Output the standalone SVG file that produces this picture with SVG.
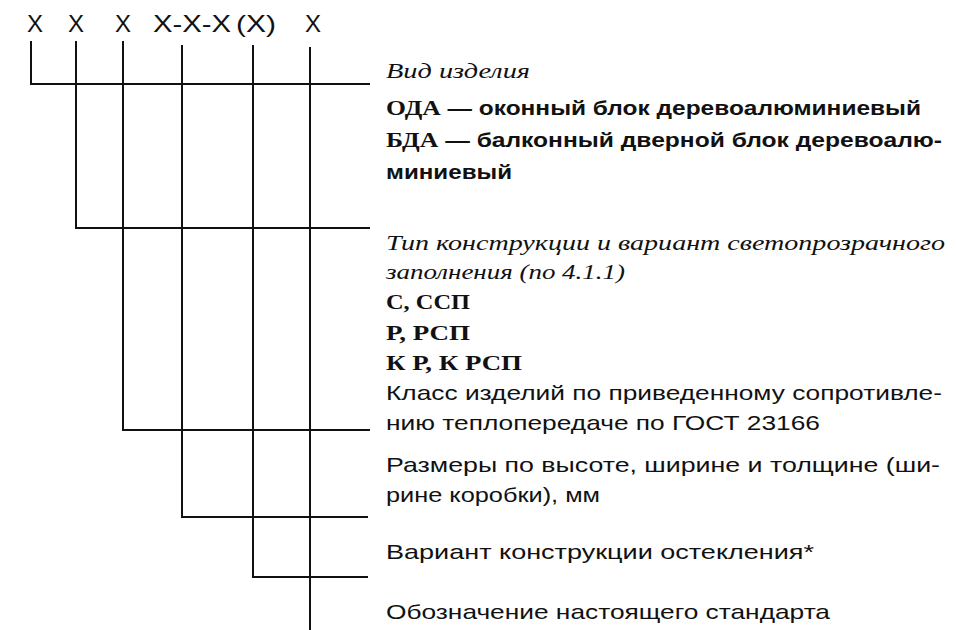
<svg xmlns="http://www.w3.org/2000/svg" width="956" height="630" viewBox="0 0 956 630">
<style>
.bg{fill:#ffffff}
.hx{font-family:"Liberation Sans",Arial,sans-serif;font-size:24px;fill:#111}
.it{font-family:"Liberation Serif","Times New Roman",serif;font-style:italic;font-size:21px;fill:#111}
.bd{font-family:"Liberation Sans",Arial,sans-serif;font-weight:bold;font-size:21px;fill:#111}
.bs{font-family:"Liberation Serif","Times New Roman",serif;font-weight:bold;font-size:22px;fill:#111}
.rg{font-family:"Liberation Sans",Arial,sans-serif;font-size:21px;fill:#111}
.ln{fill:none;stroke:#111;stroke-width:2}
</style>
<rect class="bg" x="0" y="0" width="956" height="630"/>
<g id="header">
<text class="hx" x="35" y="32" text-anchor="middle">Х</text>
<text class="hx" x="76" y="32" text-anchor="middle">Х</text>
<text class="hx" x="123" y="32" text-anchor="middle">Х</text>
<text class="hx" x="153" y="32" textLength="78" lengthAdjust="spacingAndGlyphs">Х-Х-Х</text>
<text class="hx" x="236" y="32" textLength="40" lengthAdjust="spacingAndGlyphs">(Х)</text>
<text class="hx" x="313" y="32" text-anchor="middle">Х</text>
</g>
<g id="connectors">
<path class="ln" d="M31,41 V84 H370"/>
<path class="ln" d="M76,41 V228 H370"/>
<path class="ln" d="M123,41 V430 H370"/>
<path class="ln" d="M182,45 V517 H368"/>
<path class="ln" d="M253,45 V577 H368"/>
<path class="ln" d="M310,47 V630"/>
</g>
<g id="node-vid">
<text class="it" x="386" y="78" textLength="144" lengthAdjust="spacingAndGlyphs">Вид изделия</text>
<text class="bd" x="386" y="115" textLength="535" lengthAdjust="spacingAndGlyphs"><tspan class="bs">ОДА</tspan> — оконный блок деревоалюминиевый</text>
<text class="bd" x="386" y="147" textLength="556" lengthAdjust="spacingAndGlyphs"><tspan class="bs">БДА</tspan> — балконный дверной блок деревоалю-</text>
<text class="bd" x="386" y="179" textLength="126" lengthAdjust="spacingAndGlyphs">миниевый</text>
</g>
<g id="node-tip">
<text class="it" x="386" y="250" textLength="559" lengthAdjust="spacingAndGlyphs">Тип конструкции и вариант светопрозрачного</text>
<text class="it" x="386" y="279" textLength="239" lengthAdjust="spacingAndGlyphs">заполнения (по 4.1.1)</text>
<text class="bs" x="386" y="309" textLength="84" lengthAdjust="spacingAndGlyphs">С, ССП</text>
<text class="bs" x="386" y="340" textLength="84" lengthAdjust="spacingAndGlyphs">Р, РСП</text>
<text class="bs" x="386" y="370" textLength="136" lengthAdjust="spacingAndGlyphs">К Р, К РСП</text>
</g>
<g id="node-klass">
<text class="rg" x="386" y="400" textLength="556" lengthAdjust="spacingAndGlyphs">Класс изделий по приведенному сопротивле-</text>
<text class="rg" x="386" y="430" textLength="434" lengthAdjust="spacingAndGlyphs">нию теплопередаче по ГОСТ 23166</text>
</g>
<g id="node-razmery">
<text class="rg" x="386" y="472" textLength="554" lengthAdjust="spacingAndGlyphs">Размеры по высоте, ширине и толщине (ши-</text>
<text class="rg" x="386" y="502" textLength="214" lengthAdjust="spacingAndGlyphs">рине коробки), мм</text>
</g>
<g id="node-variant">
<text class="rg" x="386" y="559" textLength="428" lengthAdjust="spacingAndGlyphs">Вариант конструкции остекления*</text>
</g>
<g id="node-oboznachenie">
<text class="rg" x="386" y="619" textLength="444" lengthAdjust="spacingAndGlyphs">Обозначение настоящего стандарта</text>
</g>
</svg>
